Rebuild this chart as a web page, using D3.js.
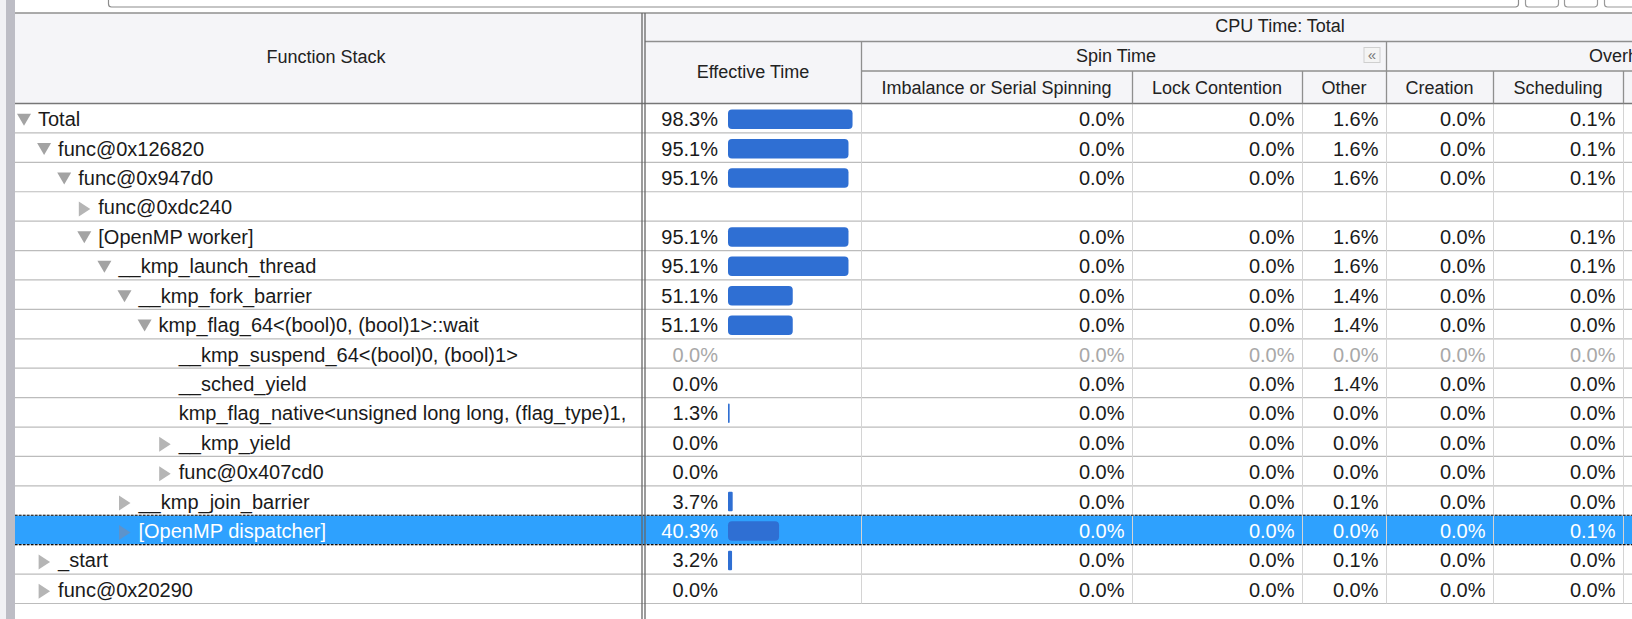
<!DOCTYPE html>
<html>
<head>
<meta charset="utf-8">
<script src="https://cdn.jsdelivr.net/npm/d3@7"></script>
<style>
  html, body { margin: 0; padding: 0; background: #fff; overflow: hidden; }
  svg { display: block; font-family: "Liberation Sans", Arial, sans-serif; font-size: 20px; }
</style>
</head>
<body>
<div id="chart"></div>
<script>
const functionNames = [
  "Total",
  "func@0x126820",
  "func@0x947d0",
  "func@0xdc240",
  "[OpenMP worker]",
  "__kmp_launch_thread",
  "__kmp_fork_barrier",
  "kmp_flag_64<(bool)0, (bool)1>::wait",
  "__kmp_suspend_64<(bool)0, (bool)1>",
  "__sched_yield",
  "kmp_flag_native<unsigned long long, (flag_type)1, ",
  "__kmp_yield",
  "func@0x407cd0",
  "__kmp_join_barrier",
  "[OpenMP dispatcher]",
  "_start",
  "func@0x20290",
];
const depths = [0, 1, 2, 3, 3, 4, 5, 6, 7, 7, 7, 7, 7, 5, 5, 1, 1];
// "open", "closed" or "" for leaf rows
const arrows = [
  "open", "open", "open", "closed", "open", "open", "open", "open",
  "", "", "", "closed", "closed", "closed", "closed", "closed", "closed",
];
const effectiveTime = [98.3, 95.1, 95.1, null, 95.1, 95.1, 51.1, 51.1, 0, 0, 1.3, 0, 0, 3.7, 40.3, 3.2, 0];
const imbalance = [0, 0, 0, null, 0, 0, 0, 0, 0, 0, 0, 0, 0, 0, 0, 0, 0];
const lockContention = [0, 0, 0, null, 0, 0, 0, 0, 0, 0, 0, 0, 0, 0, 0, 0, 0];
const otherSpin = [1.6, 1.6, 1.6, null, 1.6, 1.6, 1.4, 1.4, 0, 1.4, 0, 0, 0, 0.1, 0, 0.1, 0];
const creation = [0, 0, 0, null, 0, 0, 0, 0, 0, 0, 0, 0, 0, 0, 0, 0, 0];
const scheduling = [0.1, 0.1, 0.1, null, 0.1, 0.1, 0, 0, 0, 0, 0, 0, 0, 0, 0.1, 0, 0];
const selectedRow = 14;
const greyedRow = 8;

const w = 1632;
const h = 619;
const tableLeft = 15;
const splitX = 642;
const headerTop = 13;
const headerMid1 = 41.5;
const headerMid2 = 71;
const headerBottom = 103.5;
const rowsBottom = 603.5;
const textShift = 8; // baseline below the row centre

const valueColumns = [
  { title: "Imbalance or Serial Spinning", values: imbalance, x0: 861, x1: 1132 },
  { title: "Lock Contention", values: lockContention, x0: 1132, x1: 1302 },
  { title: "Other", values: otherSpin, x0: 1302, x1: 1386 },
  { title: "Creation", values: creation, x0: 1386, x1: 1493 },
  { title: "Scheduling", values: scheduling, x0: 1493, x1: 1623 },
];

const y = d3
  .scaleBand()
  .domain(d3.range(functionNames.length))
  .range([headerBottom, rowsBottom]);

// bar length for the effective time column
const barX = d3.scaleLinear().domain([0, 100]).range([728, 854.7]);

const fmt = function (v) {
  return v.toFixed(1) + "%";
};

const textColor = function (i) {
  if (i === selectedRow) return "#fff";
  return i === greyedRow ? "#a8a8a8" : "#1a1a1a";
};

const svg = d3.select("#chart").append("svg").attr("width", w).attr("height", h);

svg.append("rect").attr("width", w).attr("height", h).attr("fill", "#fff");

// window chrome around the grid
svg.append("rect").attr("x", 6).attr("y", 0).attr("width", 9).attr("height", h).attr("fill", "#bdbdc5");
svg.append("rect").attr("x", 0).attr("y", 0).attr("width", 6).attr("height", h).attr("fill", "#f1f1f4");
svg
  .append("rect")
  .attr("x", 108.5)
  .attr("y", -10)
  .attr("width", 1410)
  .attr("height", 17)
  .attr("rx", 3)
  .attr("fill", "#fff")
  .attr("stroke", "#8c8c8c")
  .attr("stroke-width", 1.2);
svg
  .selectAll("rect.tool")
  .data([1525, 1564, 1604])
  .enter()
  .append("rect")
  .attr("class", "tool")
  .attr("x", (d) => d + 0.5)
  .attr("y", -10)
  .attr("width", 33)
  .attr("height", 17)
  .attr("rx", 3)
  .attr("fill", "#fff")
  .attr("stroke", "#9a9a9a")
  .attr("stroke-width", 1.2);

// header background
svg
  .append("rect")
  .attr("x", tableLeft)
  .attr("y", headerTop)
  .attr("width", w - tableLeft)
  .attr("height", headerBottom - headerTop)
  .attr("fill", "#f5f5f8");

// selected row
svg
  .append("rect")
  .attr("x", tableLeft)
  .attr("y", y(selectedRow))
  .attr("width", w - tableLeft)
  .attr("height", y.bandwidth())
  .attr("fill", "#2ea1fe");

// row separators
svg
  .append("g")
  .selectAll("line")
  .data(d3.range(functionNames.length))
  .enter()
  .append("line")
  .attr("x1", tableLeft)
  .attr("x2", w)
  .attr("y1", (d) => y(d) + y.bandwidth())
  .attr("y2", (d) => y(d) + y.bandwidth())
  .attr("stroke", "#bcbcbc")
  .attr("stroke-width", 1.2);

// column separators in the body
svg
  .append("g")
  .selectAll("line")
  .data(valueColumns.map((c) => c.x0).concat([1623]))
  .enter()
  .append("line")
  .attr("x1", (d) => d + 0.5)
  .attr("x2", (d) => d + 0.5)
  .attr("y1", headerBottom)
  .attr("y2", rowsBottom)
  .attr("stroke", "#d4d4d4");

// dashed outline of the selected row
[y(selectedRow), y(selectedRow) + y.bandwidth()].forEach(function (ly) {
  svg
    .append("line")
    .attr("x1", tableLeft)
    .attr("x2", w)
    .attr("y1", ly)
    .attr("y2", ly)
    .attr("stroke", "#111")
    .attr("stroke-width", 1.2)
    .attr("stroke-dasharray", "2.5,1.5");
});

// header lines
const headerLines = [
  [tableLeft, w, headerTop, headerTop, "#8f8f8f"],
  [645, w, headerMid1, headerMid1, "#8f8f8f"],
  [861, w, headerMid2, headerMid2, "#8f8f8f"],
  [tableLeft, w, headerBottom, headerBottom, "#777"],
  [861.5, 861.5, headerMid1, headerBottom, "#8f8f8f"],
  [1132.5, 1132.5, headerMid2, headerBottom, "#8f8f8f"],
  [1302.5, 1302.5, headerMid2, headerBottom, "#8f8f8f"],
  [1386.5, 1386.5, headerMid1, headerBottom, "#8f8f8f"],
  [1493.5, 1493.5, headerMid2, headerBottom, "#8f8f8f"],
  [1623.5, 1623.5, headerMid2, headerBottom, "#8f8f8f"],
];
svg
  .append("g")
  .selectAll("line")
  .data(headerLines)
  .enter()
  .append("line")
  .attr("x1", (d) => d[0])
  .attr("x2", (d) => d[1])
  .attr("y1", (d) => d[2])
  .attr("y2", (d) => d[3])
  .attr("stroke", (d) => d[4])
  .attr("stroke-width", 1.3);

// double splitter between the tree and the values
[splitX, 645].forEach(function (sx) {
  svg
    .append("line")
    .attr("x1", sx)
    .attr("x2", sx)
    .attr("y1", headerTop)
    .attr("y2", h)
    .attr("stroke", "#666")
    .attr("stroke-width", 1.3);
});

// header text
const headerLabels = [
  ["Function Stack", 326, 57],
  ["CPU Time: Total", 1280, 26],
  ["Effective Time", 753, 72],
  ["Spin Time", 1116, 56],
];
svg
  .append("g")
  .selectAll("text")
  .data(headerLabels)
  .enter()
  .append("text")
  .attr("x", (d) => d[1])
  .attr("y", (d) => d[2])
  .attr("dy", "0.35em")
  .attr("text-anchor", "middle")
  .attr("fill", "#222")
  .attr("font-size", 18)
  .text((d) => d[0]);

svg
  .append("text")
  .attr("x", 1589)
  .attr("y", 56)
  .attr("dy", "0.35em")
  .attr("fill", "#222")
  .attr("font-size", 18)
  .text("Overh");

svg
  .append("g")
  .selectAll("text")
  .data(valueColumns)
  .enter()
  .append("text")
  .attr("x", (d) => (d.x0 + d.x1) / 2)
  .attr("y", 87.5)
  .attr("dy", "0.35em")
  .attr("text-anchor", "middle")
  .attr("fill", "#222")
  .attr("font-size", 18)
  .text((d) => d.title);

// collapse button on Spin Time
svg
  .append("rect")
  .attr("x", 1364)
  .attr("y", 47.5)
  .attr("width", 16)
  .attr("height", 15)
  .attr("fill", "#f4f4f4")
  .attr("stroke", "#cfcfcf");
svg
  .append("text")
  .attr("x", 1372)
  .attr("y", 54.5)
  .attr("dy", "0.35em")
  .attr("text-anchor", "middle")
  .attr("font-size", 15)
  .attr("fill", "#777")
  .text("«");

// tree column, clipped at the splitter
svg
  .append("clipPath")
  .attr("id", "treeClip")
  .append("rect")
  .attr("x", tableLeft)
  .attr("y", headerBottom)
  .attr("width", splitX - tableLeft - 1)
  .attr("height", rowsBottom - headerBottom);

const tree = svg.append("g").attr("clip-path", "url(#treeClip)");

const rows = tree
  .selectAll("g")
  .data(d3.range(functionNames.length))
  .enter()
  .append("g")
  .attr("transform", (i) => `translate(${17 + depths[i] * 20.1},${y(i) + y.bandwidth() / 2})`);

rows
  .filter((i) => arrows[i] !== "")
  .append("path")
  .attr("d", (i) => (arrows[i] === "open" ? "M0,-4.5L14,-4.5L7,7.5Z" : "M1.5,-5L13,2.5L1.5,10Z"))
  .attr("fill", function (i) {
    if (i === selectedRow) return "#5c93cc";
    return arrows[i] === "open" ? "#a3a3a3" : "#b5b5b5";
  });

rows
  .append("text")
  .attr("x", 21)
  .attr("y", textShift)
  .attr("fill", (i) => (i === selectedRow ? "#fff" : "#1a1a1a"))
  .text((i) => functionNames[i]);

// effective time column
const effectiveRows = effectiveTime
  .map((v, i) => ({ v: v, i: i }))
  .filter((d) => d.v !== null);

svg
  .append("g")
  .selectAll("rect")
  .data(effectiveRows.filter((d) => d.v > 0))
  .enter()
  .append("rect")
  .attr("x", barX(0))
  .attr("y", (d) => y(d.i) + 6)
  .attr("width", (d) => barX(d.v) - barX(0))
  .attr("height", 19.5)
  .attr("rx", (d) => (d.v > 10 ? 4 : 1))
  .attr("fill", "#2f6fd3");

svg
  .append("g")
  .selectAll("text")
  .data(effectiveRows)
  .enter()
  .append("text")
  .attr("x", 718)
  .attr("y", (d) => y(d.i) + y.bandwidth() / 2 + textShift)
  .attr("text-anchor", "end")
  .attr("fill", (d) => textColor(d.i))
  .text((d) => fmt(d.v));

// value cells
valueColumns.forEach(function (col) {
  svg
    .append("g")
    .selectAll("text")
    .data(col.values.map((v, i) => ({ v: v, i: i })).filter((d) => d.v !== null))
    .enter()
    .append("text")
    .attr("x", col.x1 - 7.5)
    .attr("y", (d) => y(d.i) + y.bandwidth() / 2 + textShift)
    .attr("text-anchor", "end")
    .attr("fill", (d) => textColor(d.i))
    .text((d) => fmt(d.v));
});
</script>
</body>
</html>
